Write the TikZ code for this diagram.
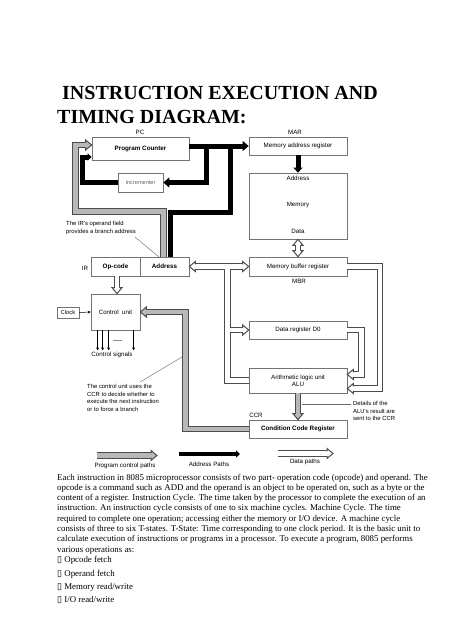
\documentclass[tikz,border=0pt]{standalone}
\usepackage{fontspec}
\setmainfont{Liberation Serif}
\newfontfamily\dsf{Liberation Sans}
\newfontfamily\symf{DejaVu Sans}
\newcommand\bulglyph{{\symf\fontsize{9}{10}\selectfont ▯}}
\usetikzlibrary{arrows.meta,calc}
\definecolor{boxline}{gray}{0.45}
\definecolor{pcfill}{gray}{0.72}
\definecolor{pathedge}{gray}{0.3}
\tikzset{
 title/.style={font=\bfseries\fontsize{20}{22}\selectfont, inner sep=0pt, anchor=base west},
 body/.style={font=\fontsize{8.85}{10}\selectfont, inner sep=0pt, anchor=base west},
 blk/.style={draw=boxline, line width=0.7pt, fill=white, font=\dsf\fontsize{6.2}{7.2}\selectfont, inner sep=0pt, align=center},
 bblk/.style={blk, font=\dsf\bfseries\fontsize{6.3}{7.2}\selectfont},
 lbl/.style={font=\dsf\fontsize{6.2}{7.2}\selectfont, inner sep=0pt},
 note/.style={font=\dsf\fontsize{5.9}{7.6}\selectfont, inner sep=0pt, align=left, anchor=north west},
 apath/.style={line width=5pt, black},
 gout/.style={line width=6.5pt, pathedge},
 gin/.style={line width=4.5pt, pcfill},
 dout/.style={line width=6.5pt, pathedge},
 din/.style={line width=4.5pt, white},
 leader/.style={line width=0.4pt, black!60},
 thinarr/.style={line width=0.5pt, -{Stealth[length=3pt,width=3pt]}},
 pics/hR/.style={code={\fill[#1] (0,0)--(-6,-5)--(-6,5)--cycle;
   \draw[pathedge,line width=1pt] (-6,-2.25)--(-6,-5)--(0,0)--(-6,5)--(-6,2.25);}},
 pics/hL/.style={code={\fill[#1] (0,0)--(6,-5)--(6,5)--cycle;
   \draw[pathedge,line width=1pt] (6,-2.25)--(6,-5)--(0,0)--(6,5)--(6,2.25);}},
 pics/hD/.style={code={\fill[#1] (0,0)--(-5,-6)--(5,-6)--cycle;
   \draw[pathedge,line width=1pt] (-2.25,-6)--(-5,-6)--(0,0)--(5,-6)--(2.25,-6);}},
 pics/hU/.style={code={\fill[#1] (0,0)--(-5,6)--(5,6)--cycle;
   \draw[pathedge,line width=1pt] (-2.25,6)--(-5,6)--(0,0)--(5,6)--(2.25,6);}},
}
\begin{document}
\begin{tikzpicture}[x=1pt,y=-1pt]
\useasboundingbox (0,0) rectangle (474,632);
\fill[white] (0,0) rectangle (474,632);

% title
\node[title] (t1) at (62,99) {INSTRUCTION EXECUTION AND};
\node[title] (t2) at (57,123.5) {TIMING DIAGRAM:};

% boxes
\node[bblk, minimum width=97pt, minimum height=23pt] (pc) at (140.5,148.5) {Program Counter};
\node[blk, minimum width=45pt, minimum height=19pt, text=black!60, font=\dsf\fontsize{5.6}{6.5}\selectfont] (inc) at (140.5,182.5) {Incrementer};
\node[blk, minimum width=98pt, minimum height=18pt] (mar) at (298,146) {Memory address register};
\node[blk, minimum width=98pt, minimum height=66pt] (mem) at (298,206) {};
\node[blk, minimum width=98pt, minimum height=19pt] (mbr) at (298,266.5) {Memory buffer register};
\node[blk, minimum width=98pt, minimum height=18pt] (d0) at (298,330) {Data register D0};
\node[blk, minimum width=98pt, minimum height=25pt] (alu) at (298,380.5) {Arithmetic logic unit\\ALU};
\node[bblk, minimum width=98pt, minimum height=18pt] (ccr) at (298,429) {Condition Code Register};
\node[bblk, minimum width=49pt, minimum height=19pt] (op) at (115.5,266.5) {Op-code};
\node[bblk, minimum width=49pt, minimum height=19pt] (addr) at (164.5,266.5) {Address};
\node[blk, minimum width=49pt, minimum height=36pt] (cu) at (115.5,312) {Control\ \ unit};
\node[blk, minimum width=22pt, minimum height=11pt, font=\dsf\fontsize{5.8}{6.5}\selectfont] (clk) at (68,312.5) {Clock};

% labels
\node[lbl] (lpc) at (140,132) {PC};
\node[lbl] (lmar) at (295,132) {MAR};
\node[lbl] (lmbr) at (299,281) {MBR};
\node[lbl] (lccr) at (256,415) {CCR};
\node[lbl] (lir) at (85,268) {IR};
\node[lbl] (maddr) at ($(mem.north)+(0,5.5)$) {Address};
\node[lbl] (mmem) at ($(mem.center)+(0,-1)$) {Memory};
\node[lbl] (mdat) at ($(mem.south)+(0,-8)$) {Data};
\node[lbl] (csig) at (112,355) {Control signals};

% notes
\node[note] (nir) at (66,221) {The IR's operand field\\provides a branch address};
\node[note] (ncu) at (87,384) {The control unit uses the\\CCR to decide whether to\\execute the next instruction\\or to force a branch};
\node[note] (nalu) at (353,401) {Details of the\\ALU's result are\\sent to the CCR};

% ---- program control paths (gray)
\coordinate (g1) at (75.5,211.5);
\coordinate (g2) at (185.5,312);
\draw[gout, shorten >=6pt] ($(addr.north)+(-1,0)$) |- (g1) |- ($(pc.west)+(0,-3.5)$);
\draw[gout, shorten >=6pt] (ccr.west) -| (g2) -- (cu.east);
\draw[gout, shorten >=6pt] (alu.south) -- (ccr.north);
\draw[gin, shorten >=6pt] ($(addr.north)+(-1,0)$) |- (g1) |- ($(pc.west)+(0,-3.5)$);
\draw[gin, shorten >=6pt] (ccr.west) -| (g2) -- (cu.east);
\draw[gin, shorten >=6pt] (alu.south) -- (ccr.north);
\pic at ($(pc.west)+(0,-3.5)$) {hR=pcfill};
\pic at (cu.east) {hL=pcfill};
\pic at (ccr.north) {hD=pcfill};

% ---- address paths (black)
\coordinate (a1) at (206,146);
\coordinate (a2) at (82,157);
\coordinate (a3) at (230.5,212.5);
\coordinate (a4) at (230.5,146);
\draw[apath, -{Triangle[length=6pt,width=10pt]}] (pc.east |- mar.west) -- (mar.west);
\draw[apath, -{Triangle[length=6pt,width=10pt]}] (a1) |- (inc.east);
\draw[apath, -{Triangle[length=4pt,width=7pt]}] (inc.west) -| (a2) -- (a2 -| pc.west);
\draw[apath] ($(addr.north)+(5.5,0)$) |- (a3) -- (a4);
\draw[apath, -{Triangle[length=5pt,width=9pt]}] (mar.south) -- (mem.north);

% ---- data paths (hollow)
\coordinate (b1) at (227.5,266.5);
\coordinate (b2) at (227.5,330);
\coordinate (b3) at (227.5,380.5);
\coordinate (r1) at (380,266.5);
\coordinate (r2) at (380,388.5);
\coordinate (s1) at (361.5,330);
\coordinate (s2) at (361.5,374.5);
\foreach \st in {dout,din}{
 \draw[\st, shorten <=6pt, shorten >=6pt] (addr.east) -- (mbr.west);
 \draw[\st] (b1) -- (b3) -- (alu.west);
 \draw[\st, shorten >=6pt] (b2) -- (d0.west);
 \draw[\st, shorten >=6pt] (mbr.east) -- (r1) -- (r2) -- (r2 -| alu.east);
 \draw[\st, shorten >=6pt] (d0.east) -- (s1) -- (s2) -- (s2 -| alu.east);
 \draw[\st, shorten <=6pt, shorten >=6pt] (mem.south) -- (mbr.north);
 \draw[\st, shorten >=6pt] ($(op.south)+(1.5,0)$) -- ($(cu.north)+(1.5,0)$);
}
\pic at (addr.east) {hL=white};
\pic at (mbr.west) {hR=white};
\pic at (d0.west) {hR=white};
\pic at (r2 -| alu.east) {hL=white};
\pic at (s2 -| alu.east) {hL=white};
\pic at (mem.south) {hU=white};
\pic at (mbr.north) {hD=white};
\pic at ($(cu.north)+(1.5,0)$) {hD=white};

% clock and control signals
\draw[thinarr] (clk.east) -- (cu.west);
\foreach \dx in {7,12,18,43}
  \draw[thinarr] ($(cu.south west)+(\dx,0)$) -- ++(0,20);
\draw[line width=0.6pt, black!45] ($(cu.south west)+(22,10)$) -- ++(9,0);

% leaders
\coordinate (l1a) at (135,237);
\coordinate (l1b) at (159,257);
\coordinate (l2a) at (140,382);
\coordinate (l2b) at (182,357);
\coordinate (l3a) at (302,404);
\coordinate (l3b) at (351,404);
\draw[leader] (l1a) -- (l1b);
\draw[leader] (l2a) -- (l2b);
\draw[leader] (l3a) -- (l3b);

% legend
\coordinate (lg1) at (97,455.5);
\coordinate (lg2) at (157,455.5);
\coordinate (lk1) at (179,454);
\coordinate (lk2) at (240,454);
\coordinate (ld1) at (278,453.5);
\coordinate (ld2) at (333,453.5);
\draw[gout, shorten >=6pt] (lg1) -- (lg2);
\draw[gin, shorten >=6pt] (lg1) -- (lg2);
\pic at (lg2) {hR=pcfill};
\draw[line width=4.5pt, black, -{Triangle[length=4pt,width=7pt]}] (lk1) -- (lk2);
\draw[dout, shorten >=6pt] (ld1) -- (ld2);
\draw[din, shorten >=6pt] (ld1) -- (ld2);
\pic at (ld2) {hR=white};
\node[lbl] (lgt1) at (125,466) {Program control paths};
\node[lbl] (lgt2) at (209,464) {Address Paths};
\node[lbl] (lgt3) at (305,462) {Data paths};

% body text
\node[body] (p1) at (57,480) {Each instruction in 8085 microprocessor consists of two part- operation code (opcode) and operand. The};
\node[body] (p2) at (57,490.3) {opcode is a command such as ADD and the operand is an object to be operated on, such as a byte or the};
\node[body] (p3) at (57,500.6) {content of a register. Instruction Cycle. The time taken by the processor to complete the execution of an};
\node[body] (p4) at (57,510.9) {instruction. An instruction cycle consists of one to six machine cycles. Machine Cycle. The time};
\node[body] (p5) at (57,521.2) {required to complete one operation; accessing either the memory or I/O device. A machine cycle};
\node[body] (p6) at (57,531.5) {consists of three to six T-states. T-State: Time corresponding to one clock period. It is the basic unit to};
\node[body] (p7) at (57,541.8) {calculate execution of instructions or programs in a processor. To execute a program, 8085 performs};
\node[body] (p8) at (57,552.1) {various operations as:};
\node[body] (q1) at (57,562.5) {\bulglyph\ Opcode fetch};
\node[body] (q2) at (57,576) {\bulglyph\ Operand fetch};
\node[body] (q3) at (57,589.8) {\bulglyph\ Memory read/write};
\node[body] (q4) at (57,602.5) {\bulglyph\ I/O read/write};
\end{tikzpicture}
\end{document}
